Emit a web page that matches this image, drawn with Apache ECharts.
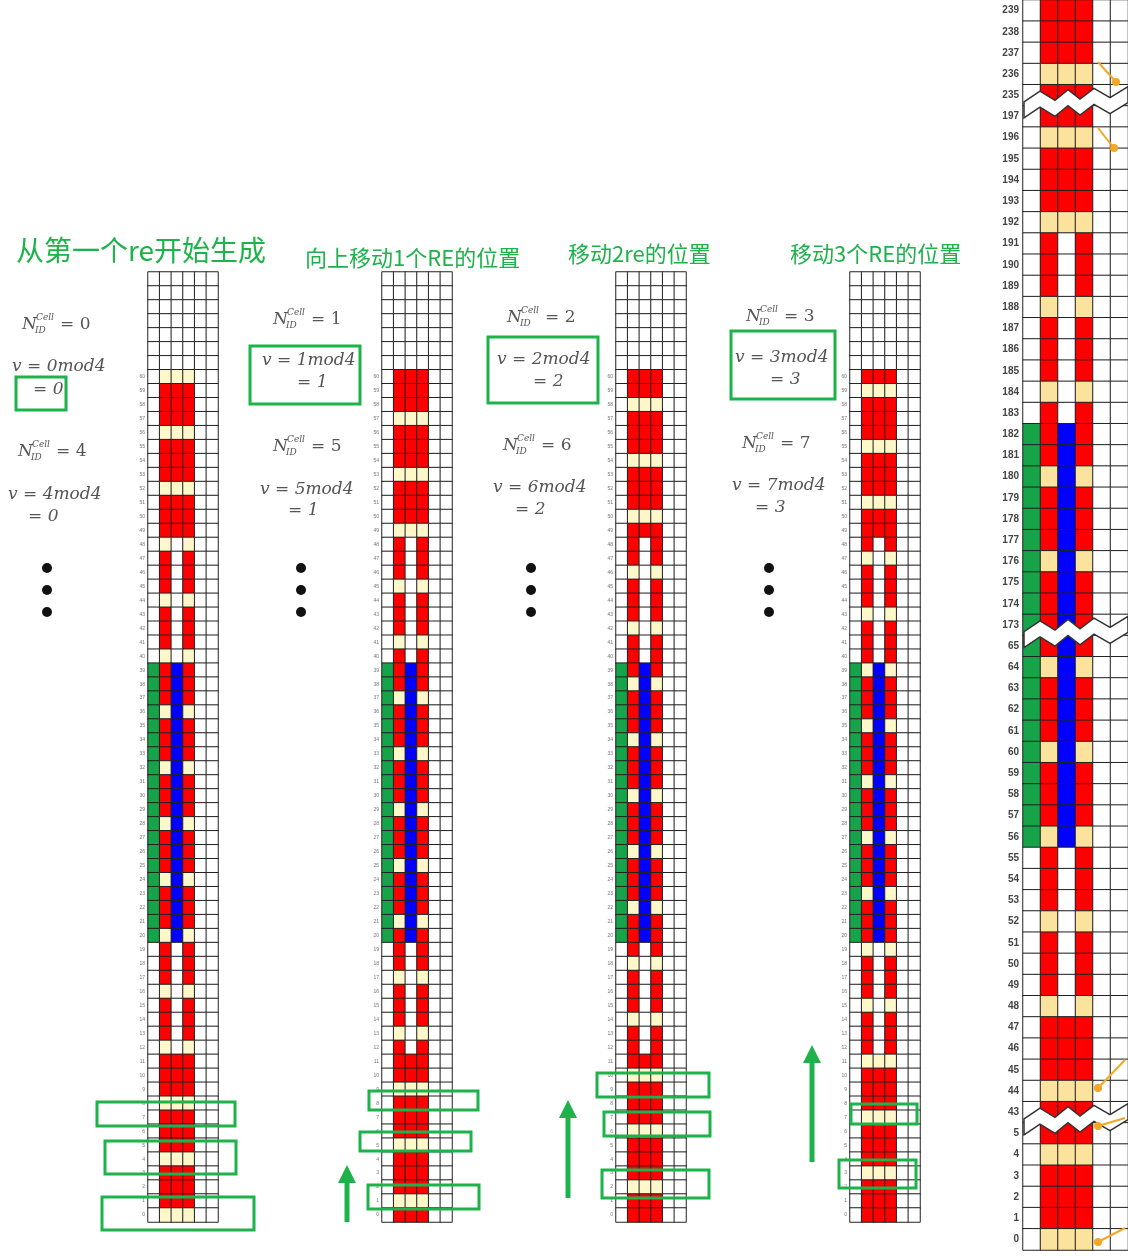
<!DOCTYPE html>
<html>
<head>
<meta charset="utf-8">
<script src="https://cdn.jsdelivr.net/npm/echarts@6/dist/echarts.min.js"></script>
<style>html,body{margin:0;padding:0;background:#fff}#chart{width:1128px;height:1258px}</style>
</head>
<body>
<div id="chart"></div>
<script>
// cell codes: 0 empty, 1 PBCH, 2 DMRS, 3 PSS/guard, 4 SSS, 5 DMRS (right panel)
// left panels: region of each row from top (e=empty, w=wide PBCH, n=narrow PBCH, s=SSS)
const leftRegions = [
  ...Array(7).fill('e'), ...Array(12).fill('w'), ...Array(9).fill('n'),
  ...Array(20).fill('s'), ...Array(8).fill('n'), ...Array(12).fill('w')
]
const shifts = [0, 1, 2, 3]
const cellIdsA = [0, 1, 2, 3]
const cellIdsB = [4, 5, 6, 7]
const titles = ['从第一个re开始生成', '向上移动1个RE的位置', '移动2re的位置', '移动3个RE的位置']
// right panel: subcarrier index of each row (top to bottom)
const rightLabels = [239, 238, 237, 236, 235,
  197, 196, 195, 194, 193, 192, 191, 190, 189, 188, 187, 186, 185, 184, 183, 182, 181, 180, 179, 178, 177, 176, 175, 174, 173,
  65, 64, 63, 62, 61, 60, 59, 58, 57, 56, 55, 54, 53, 52, 51, 50, 49, 48, 47, 46, 45, 44, 43,
  5, 4, 3, 2, 1, 0]

const panelLeft = [148, 382, 616, 850]

function leftData (v) {
  const out = []
  const n = leftRegions.length
  leftRegions.forEach((reg, r) => {
    const dm = ((n - 1 - r) - v) % 4 === 0
    for (let c = 0; c < 6; c++) {
      let val = 0
      if (reg === 'w' && c >= 1 && c <= 3) val = dm ? 2 : 1
      if (reg === 'n' && (c === 1 || c === 3)) val = dm ? 2 : 1
      if (reg === 's') {
        if (c === 0) val = 3
        else if (c === 2) val = 4
        else if (c === 1 || c === 3) val = dm ? 2 : 1
      }
      out.push([c, r, val])
    }
  })
  return out
}

function rightData () {
  const out = []
  rightLabels.forEach((k, r) => {
    const dm = k % 4 === 0
    const wide = k <= 47 || k >= 192
    const sss = k >= 56 && k <= 182
    for (let c = 0; c < 6; c++) {
      let val = 0
      if (c >= 1 && c <= 3) {
        if (wide) val = dm ? 5 : 1
        else if (c !== 2) val = dm ? 5 : 1
      }
      if (sss && c === 0) val = 3
      if (sss && c === 2) val = 4
      out.push([c, r, val])
    }
  })
  return out
}

const grids = [], xAxes = [], yAxes = [], series = []
const cols = ['0', '1', '2', '3', '4', '5']
const leftRowNames = leftRegions.map((_, i) => String(leftRegions.length - 1 - i))

shifts.forEach((v, i) => {
  grids.push({ left: panelLeft[i], top: 272, width: 70, height: 950 })
  xAxes.push({ type: 'category', gridIndex: i, data: cols, show: false })
  yAxes.push({
    type: 'category', gridIndex: i, data: leftRowNames, inverse: true,
    axisLine: { show: false }, axisTick: { show: false },
    axisLabel: { fontSize: 5, color: '#777', margin: 3, formatter: (s, idx) => idx < 7 ? '' : s }
  })
  series.push({
    type: 'heatmap', xAxisIndex: i, yAxisIndex: i, data: leftData(v),
    itemStyle: { borderColor: '#222', borderWidth: 1 }, silent: true
  })
})
grids.push({ left: 1023, top: 0, width: 105, height: 1250 })
xAxes.push({ type: 'category', gridIndex: 4, data: cols, show: false })
yAxes.push({
  type: 'category', gridIndex: 4, data: rightLabels.map(String), inverse: true,
  axisLine: { show: false }, axisTick: { show: false },
  axisLabel: { fontSize: 10, color: '#444', margin: 4, fontWeight: 'bold' }
})
series.push({
  type: 'heatmap', xAxisIndex: 4, yAxisIndex: 4, data: rightData(),
  itemStyle: { borderColor: '#222', borderWidth: 1 }, silent: true
})

// decorations
const green = '#1db34a'
const g = []
function box (x, y, w, h) {
  g.push({ type: 'rect', shape: { x, y, width: w, height: h }, style: { fill: null, stroke: green, lineWidth: 3 }, z: 100 })
}
function upArrow (x, y1, y2) {
  g.push({ type: 'line', shape: { x1: x, y1, x2: x, y2: y2 + 14 }, style: { stroke: green, lineWidth: 5 }, z: 100 })
  g.push({ type: 'polygon', shape: { points: [[x - 9, y2 + 18], [x + 9, y2 + 18], [x, y2]] }, style: { fill: green }, z: 100 })
}
const formulaFont = 'italic 17px "DejaVu Serif", "Liberation Serif", serif'
function nid (x, y, id) {
  g.push({ type: 'text', x, y, style: { text: 'N', font: formulaFont, fill: '#555', verticalAlign: 'middle' } })
  g.push({ type: 'text', x: x + 14, y: y - 7, style: { text: 'Cell', font: 'italic 9px "DejaVu Serif", serif', fill: '#555', verticalAlign: 'middle' } })
  g.push({ type: 'text', x: x + 13, y: y + 6, style: { text: 'ID', font: 'italic 9px "DejaVu Serif", serif', fill: '#555', verticalAlign: 'middle' } })
  g.push({ type: 'text', x: x + 38, y, style: { text: '= ' + id, font: '17px "DejaVu Serif", serif', fill: '#555', verticalAlign: 'middle' } })
}
function txt (x, y, s) {
  g.push({ type: 'text', x, y, style: { text: s, font: formulaFont, fill: '#555', verticalAlign: 'middle' } })
}
const textPos = [
  { nx: 22, ny: 325, vx: 12, vy: 367, ex: 33, ey: 390, n2x: 18, n2y: 452, v2x: 8, v2y: 495, e2x: 28, e2y: 517, dx: 47 },
  { nx: 273, ny: 320, vx: 262, vy: 361, ex: 297, ey: 383, n2x: 273, n2y: 447, v2x: 260, v2y: 490, e2x: 288, e2y: 511, dx: 301 },
  { nx: 507, ny: 318, vx: 497, vy: 360, ex: 533, ey: 382, n2x: 503, n2y: 446, v2x: 493, v2y: 488, e2x: 515, e2y: 510, dx: 531 },
  { nx: 746, ny: 317, vx: 735, vy: 358, ex: 770, ey: 380, n2x: 742, n2y: 444, v2x: 732, v2y: 486, e2x: 755, e2y: 508, dx: 769 }
]
textPos.forEach((p, i) => {
  nid(p.nx, p.ny, cellIdsA[i])
  txt(p.vx, p.vy, 'v = ' + cellIdsA[i] + 'mod4')
  txt(p.ex, p.ey, '= ' + shifts[i])
  nid(p.n2x, p.n2y, cellIdsB[i])
  txt(p.v2x, p.v2y, 'v = ' + cellIdsB[i] + 'mod4')
  txt(p.e2x, p.e2y, '= ' + (cellIdsB[i] % 4))
  ;[568, 590, 612].forEach(y => g.push({ type: 'circle', shape: { cx: p.dx, cy: y, r: 5 }, style: { fill: '#111' } }))
})
const titlePos = [[16, 250, 28], [305, 258, 22], [568, 254, 22], [790, 254, 22]]
titles.forEach((t, i) => {
  g.push({ type: 'text', x: titlePos[i][0], y: titlePos[i][1], style: { text: t, font: titlePos[i][2] + 'px "Noto Sans CJK SC", sans-serif', fill: green, verticalAlign: 'middle' } })
})
box(16, 377, 50, 33)
box(97, 1102, 138, 24); box(105, 1141, 131, 33); box(102, 1197, 152, 33)
box(250, 346, 110, 58); box(369, 1091, 109, 19); box(360, 1132, 111, 19); box(368, 1185, 111, 24)
box(488, 337, 110, 66); box(597, 1073, 112, 24); box(604, 1112, 106, 24); box(602, 1170, 107, 28)
box(731, 331, 104, 68); box(851, 1104, 66, 20); box(839, 1160, 77, 28)
upArrow(347, 1222, 1165); upArrow(568, 1198, 1100); upArrow(812, 1162, 1045)

// zig-zag breaks on the right panel
const rowH = 1250 / rightLabels.length
;[5, 30, 53].forEach(r => {
  const y = r * rowH
  const top = [], bot = []
  const xs = [1024, 1040, 1055, 1068, 1080, 1094, 1110, 1128]
  xs.forEach((x, j) => {
    const d = (j % 2 ? -6 : 4) - (x - 1024) * 0.05
    top.push([x, y - 8 + d])
    bot.push([x, y + 8 + d])
  })
  g.push({ type: 'polygon', shape: { points: top.concat(bot.reverse()) }, style: { fill: '#fff', stroke: '#333', lineWidth: 1.5 }, z: 100 })
})
// small orange pointers
;[[1098, 62, 1116, 82], [1098, 128, 1114, 148], [1125, 1060, 1098, 1088], [1125, 1118, 1098, 1126], [1125, 1228, 1098, 1242]].forEach(a => {
  g.push({ type: 'line', shape: { x1: a[0], y1: a[1], x2: a[2], y2: a[3] }, style: { stroke: '#f5a623', lineWidth: 2 }, z: 100 })
  g.push({ type: 'circle', shape: { cx: a[2], cy: a[3], r: 4 }, style: { fill: '#f5a623' }, z: 100 })
})

const chart = echarts.init(document.getElementById('chart'))
chart.setOption({
  animation: false,
  backgroundColor: '#fff',
  grid: grids,
  xAxis: xAxes,
  yAxis: yAxes,
  visualMap: {
    type: 'piecewise', show: false, dimension: 2,
    pieces: [
      { value: 0, color: '#ffffff' },
      { value: 1, color: '#ff0000' },
      { value: 2, color: '#fdf7c9' },
      { value: 3, color: '#17a34a' },
      { value: 4, color: '#0000ff' },
      { value: 5, color: '#fbe29d' }
    ]
  },
  series,
  graphic: g
})
</script>
</body>
</html>
